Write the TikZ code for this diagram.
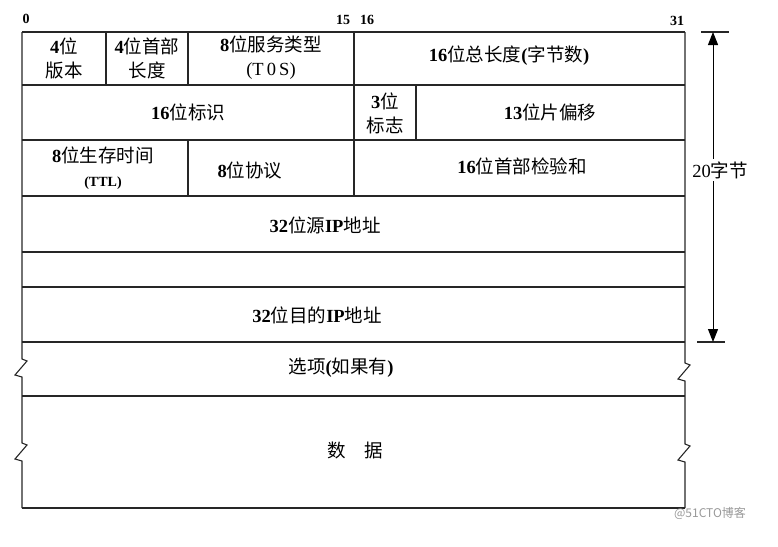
\documentclass[tikz,border=0pt]{standalone}
\usepackage{fontspec}
\setmainfont{Liberation Serif}
\newfontfamily\cjk{Noto Sans CJK SC}
\usetikzlibrary{arrows.meta}
\newcommand{\zh}[1]{{\cjk\mdseries #1}}

\begin{document}
\begin{tikzpicture}[x=1pt, y=-1pt,
    frame/.style={line width=1.1pt, color=black!85},
    lbl/.style={font=\fontsize{18.5}{24}\selectfont\bfseries, align=center, inner sep=0pt},
    bitno/.style={font=\fontsize{14}{14}\selectfont\bfseries, inner sep=0pt},
    dim/.style={{Triangle[length=13pt,width=10pt]}-{Triangle[length=13pt,width=10pt]}, line width=1pt}
]
\useasboundingbox (0,0) rectangle (778,546);

% Bit numbers
\node[bitno] (b0) at (26,19) {0};
\node[bitno] (b15) at (343,20) {15};
\node[bitno] (b16) at (367,20) {16};
\node[bitno] (b31) at (677,21) {31};

% Row lines
\foreach \y in {32,85,140,196,252,287,342,396,508}
    \draw[frame] (22,\y) -- (685,\y);

% Left and right edges, broken for options and data
\draw[frame] (22,32) -- (22,359) -- (27,361) -- (15,375) -- (22,377)
    -- (22,443) -- (27,445) -- (15,459) -- (22,461) -- (22,508);
\draw[frame] (685,32) -- (685,363) -- (690,365) -- (678,379) -- (685,381)
    -- (685,444) -- (690,446) -- (678,460) -- (685,462) -- (685,508);

% Field dividers
\draw[frame] (106,32) -- (106,85);
\draw[frame] (188,32) -- (188,85);
\draw[frame] (188,140) -- (188,196);
\draw[frame] (354,32) -- (354,196);
\draw[frame] (416,85) -- (416,140);

% Row 1
\node[lbl] (ver) at (64,58) {4\zh{位}\\\zh{版本}};
\node[lbl] (ihl) at (147,58) {4\zh{位首部}\\\zh{长度}};
\node[lbl] (tos) at (271,58) {8\zh{位服务类型}\\{\mdseries(T\,0\,S)}};
\node[lbl] (tlen) at (509,56) {16\zh{位总长度}(\zh{字节数})};

% Row 2
\node[lbl] (ident) at (188,112) {16\zh{位标识}};
\node[lbl] (flags) at (385,113) {3\zh{位}\\\zh{标志}};
\node[lbl] (frag) at (550,112) {13\zh{位片偏移}};

% Row 3
\node[lbl] (ttl) at (103,168) {8\zh{位生存时间}\\{\fontsize{14}{14}\selectfont(TTL)}};
\node[lbl] (proto) at (250,170) {8\zh{位协议}};
\node[lbl] (csum) at (522,166) {16\zh{位首部检验和}};

% Addresses, options, data
\node[lbl] (src) at (325,225) {32\zh{位源}IP\zh{地址}};
\node[lbl] (dst) at (317,315) {32\zh{位目的}IP\zh{地址}};
\node[lbl] (opt) at (341,368) {\zh{选项}(\zh{如果有})};
\node[lbl] (data) at (355,450) {\zh{数\quad 据}};

% Header size
\coordinate (dtop) at (713,32);
\coordinate (dbot) at (713,342);
\draw[frame] (701,32) -- (729,32);
\draw[frame] (697,342) -- (725,342);
\draw[dim] (dtop) -- (dbot);
\node[lbl, fill=white, inner sep=2pt, font=\fontsize{18.5}{22}\selectfont] (hdr) at (720,170) {20\zh{字节}};

% Watermark
\node[font=\cjk\fontsize{12}{12}\selectfont, color=black!40, inner sep=0pt] (mark) at (710,513) {@51CTO博客};

\end{tikzpicture}
\end{document}
